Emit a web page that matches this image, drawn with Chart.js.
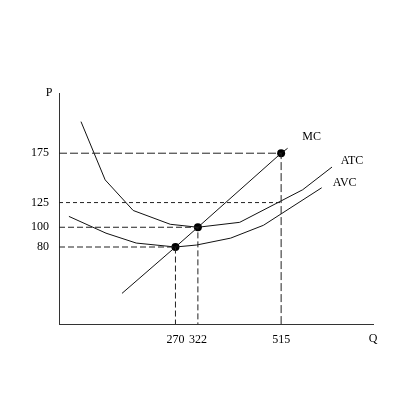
<!DOCTYPE html>
<html>
<head>
<meta charset="utf-8">
<script src="https://cdn.jsdelivr.net/npm/chart.js@4"></script>
<style>
html,body{margin:0;padding:0;background:#fff;}
canvas{display:block;}
</style>
</head>
<body>
<canvas id="c" width="400" height="400"></canvas>
<script>
// Quantities and prices
const xTicks = [270, 322, 515];
const yTicks = [80, 100, 125, 175];

const mcQ = [146, 270, 322, 515, 530];
const mcP = [33, 80, 100, 175, 180];

const atcQ = [51, 107, 172, 258, 322, 419, 565, 633];
const atcP = [207, 148, 117, 103, 100, 105, 138, 161];

const avcQ = [23, 109, 179, 270, 319, 398, 474, 609];
const avcP = [111, 94, 84, 80, 82, 89, 102, 140];

const dotQ = [270, 322, 515];
const dotP = [80, 100, 175];

const seriesNames = ['MC', 'ATC', 'AVC'];
const axisNames = ['Q', 'P'];

// dashed guide lines: [q at end, p level]
const guideQ = [270, 322, 515, 515];
const guideP = [80, 100, 175, 125];
const guideVertical = [true, true, true, false];

function pts(qs, ps) { return qs.map((q, i) => ({x: q, y: ps[i]})); }

const guideSets = guideQ.map((q, i) => {
  const d = [{x: 0, y: guideP[i]}, {x: q, y: guideP[i]}];
  if (guideVertical[i]) d.push({x: q, y: 2});
  const dash = guideP[i] === 175 ? [8, 3] : (guideP[i] === 125 ? [4, 3] : [6, 3]);
  return {data: d, borderColor: '#222', borderWidth: 1, borderDash: dash, pointRadius: 0, fill: false, tension: 0};
});

const serif = "'Liberation Serif', 'DejaVu Serif', serif";

const labelPlugin = {
  id: 'labels',
  afterDatasetsDraw(chart) {
    const ctx = chart.ctx, xs = chart.scales.x, ys = chart.scales.y, ca = chart.chartArea;
    ctx.save();
    ctx.fillStyle = '#000';
    ctx.font = '12px ' + serif;
    ctx.textAlign = 'center';
    ctx.textBaseline = 'middle';
    const ends = [[mcQ, mcP, 24, -11], [atcQ, atcP, 20, -6], [avcQ, avcP, 23, -5]];
    ends.forEach((e, i) => {
      const q = e[0][e[0].length - 1], p = e[1][e[1].length - 1];
      ctx.fillText(seriesNames[i], xs.getPixelForValue(q) + e[2], ys.getPixelForValue(p) + e[3]);
    });
    ctx.fillText(axisNames[1], ca.left - 10, ca.top);
    ctx.fillText(axisNames[0], ca.right, ca.bottom + 15);
    ctx.restore();
  }
};

new Chart(document.getElementById('c'), {
  type: 'line',
  data: {
    datasets: [
      ...guideSets,
      {data: pts(mcQ, mcP), borderColor: '#111', borderWidth: 1, pointRadius: 0, tension: 0},
      {data: pts(atcQ, atcP), borderColor: '#111', borderWidth: 1, pointRadius: 0, tension: 0},
      {data: pts(avcQ, avcP), borderColor: '#111', borderWidth: 1, pointRadius: 0, tension: 0},
      {data: pts(dotQ, dotP), showLine: false, pointRadius: 4, pointBackgroundColor: '#000', pointBorderColor: '#000', pointBorderWidth: 0}
    ]
  },
  options: {
    responsive: false,
    animation: false,
    devicePixelRatio: 1,
    layout: {padding: {left: 0, top: 93, right: 27, bottom: 0}},
    plugins: {legend: {display: false}, tooltip: {enabled: false}},
    scales: {
      x: {
        type: 'linear', min: 0, max: 728,
        grid: {display: false, drawTicks: false},
        border: {display: true, color: '#333', width: 1},
        afterBuildTicks(s) { s.ticks = xTicks.map(v => ({value: v})); },
        afterFit(s) { s.height = 76; },
        ticks: {color: '#000', padding: 9, maxRotation: 0, autoSkip: false, font: {family: serif, size: 12}, callback: v => String(v)}
      },
      y: {
        type: 'linear', min: 2, max: 236,
        grid: {display: false, drawTicks: false},
        border: {display: true, color: '#333', width: 1},
        afterBuildTicks(s) { s.ticks = yTicks.map(v => ({value: v})); },
        afterFit(s) { s.width = 59; },
        ticks: {color: '#000', padding: 10, autoSkip: false, font: {family: serif, size: 12}, callback: v => String(v)}
      }
    }
  },
  plugins: [labelPlugin]
});
</script>
</body>
</html>
